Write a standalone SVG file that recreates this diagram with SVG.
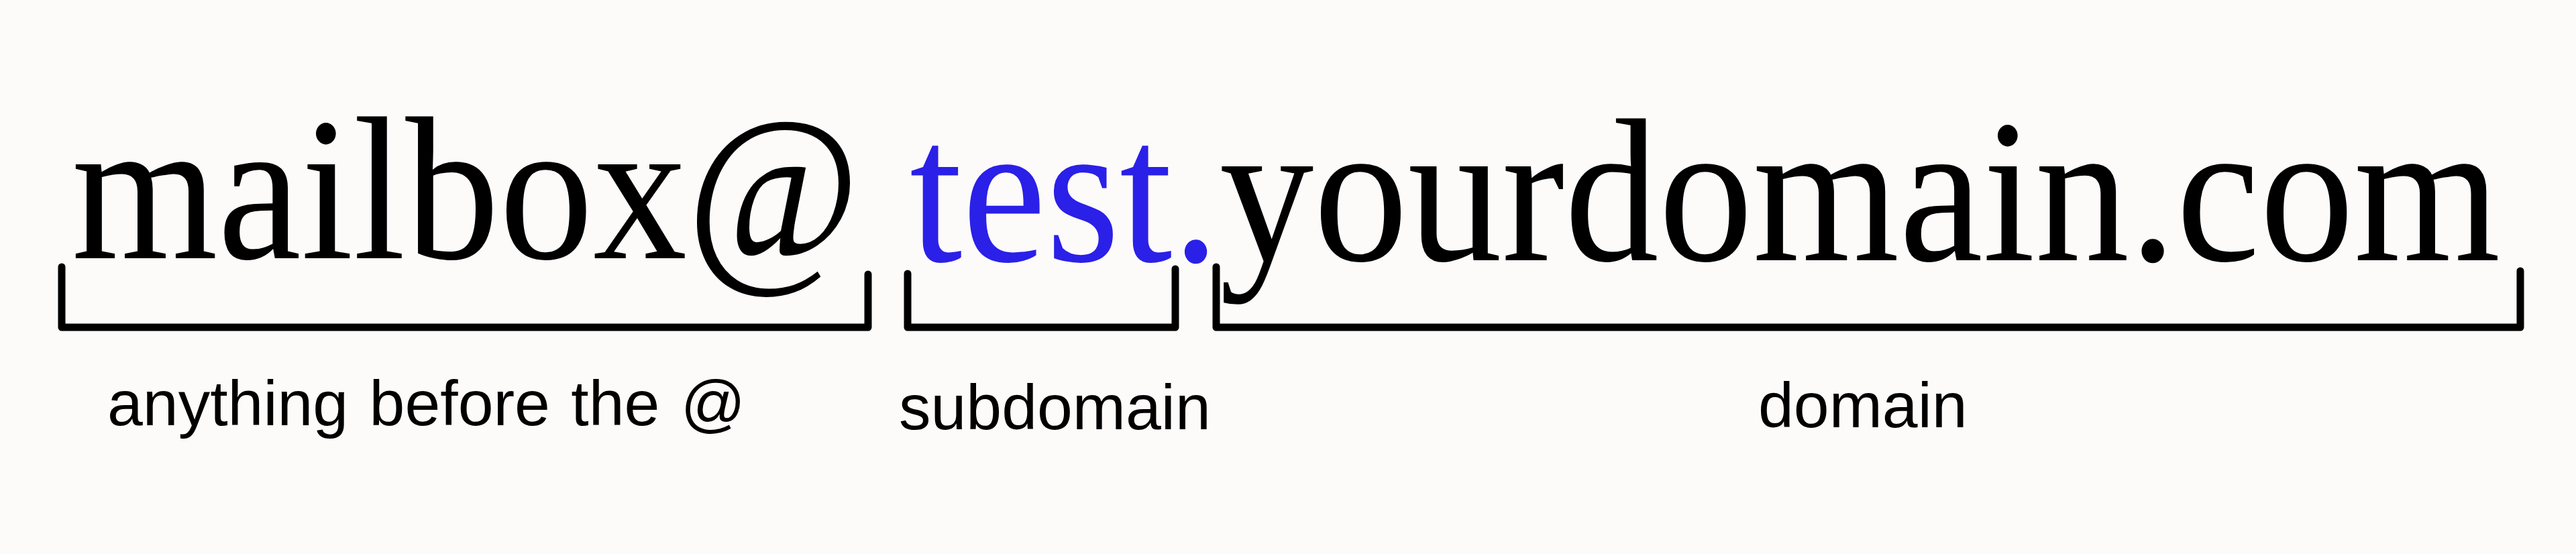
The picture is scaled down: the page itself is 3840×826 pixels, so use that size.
<svg xmlns="http://www.w3.org/2000/svg" width="3840" height="826" viewBox="0 0 3840 826">
<style>
.main{font-family:"Liberation Serif","Times New Roman",serif;font-size:305px;}
.blk{fill:#000000;}
.blu{fill:#2a20e8;}
.lbl{font-family:"Liberation Sans",Arial,sans-serif;font-size:95px;fill:#000000;}
.br{fill:none;stroke:#000000;stroke-width:11;stroke-linecap:round;stroke-linejoin:round;}
</style>
<rect x="0" y="0" width="3840" height="826" fill="#fdfafa"/>
<g id="local-part">
<text class="main blk" transform="matrix(0.9175,0,0,1,107,385)" x="0" y="0">mailbox@</text>
</g>
<g id="subdomain">
<text class="main blu" transform="matrix(0.924,0,0,1,1356,389)" x="0" y="0">test.</text>
</g>
<g id="domain">
<text class="main blk" transform="matrix(0.92,0,0,1,1818,388)" x="0" y="0">yourdomain.com</text>
</g>
<g id="connectors">
<path class="br" d="M92,398 V488 H1294 V409"/>
<path class="br" d="M1353,408 V488 H1752 V401"/>
<path class="br" d="M1813,398 V488 H3757 V404"/>
</g>
<g id="labels">
<text class="lbl" x="160" y="634" word-spacing="5">anything before the @</text>
<text class="lbl" x="1340" y="640">subdomain</text>
<text class="lbl" x="2621" y="637">domain</text>
</g>
</svg>
